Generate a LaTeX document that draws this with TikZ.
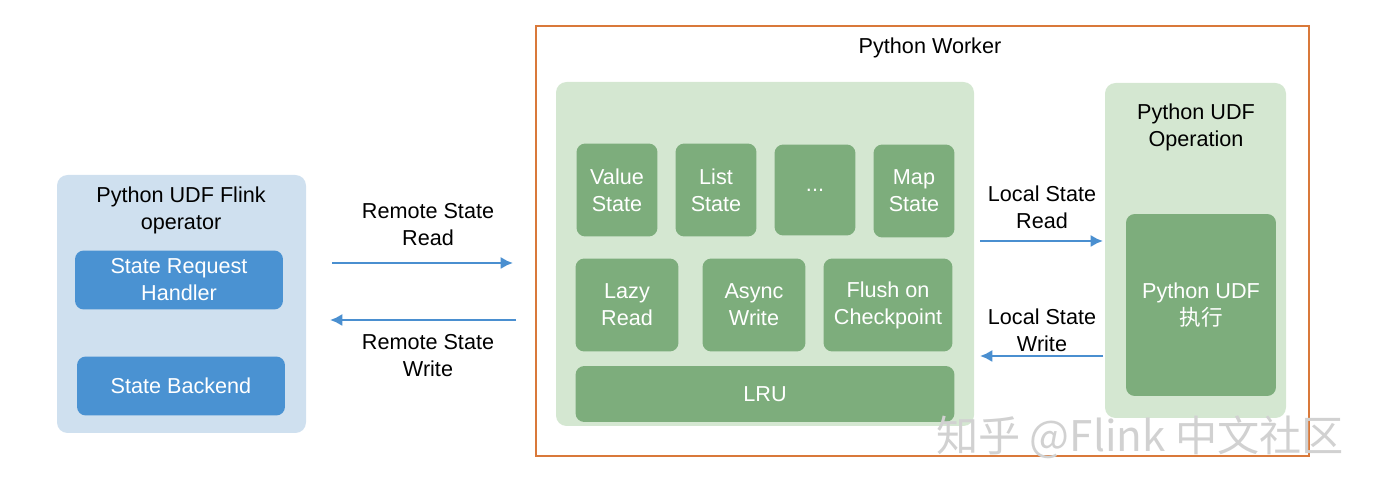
\documentclass[tikz,border=0pt]{standalone}
\usepackage{fontspec}
\setmainfont{Liberation Sans}
\newfontfamily\cjk{Noto Sans CJK SC}
\usetikzlibrary{positioning,arrows.meta}
\definecolor{panelblue}{HTML}{CFE0EF}
\definecolor{boxblue}{HTML}{4A92D2}
\definecolor{panelgreen}{HTML}{D4E7D1}
\definecolor{boxgreen}{HTML}{7DAD7C}
\definecolor{arrowblue}{HTML}{4A8FD0}
\definecolor{workerorange}{HTML}{D9793A}
\tikzset{
  txt/.style={font=\fontsize{12.3}{15.3}\selectfont, align=center},
  panel/.style={rounded corners=5pt, draw=none},
  bluebox/.style={panel, fill=boxblue, text=white, txt},
  greenbox/.style={panel, fill=boxgreen, text=white, txt},
  flow/.style={arrowblue, line width=1.6pt, -{Latex[length=7pt,width=7pt]}}
}
\begin{document}
\begin{tikzpicture}[x=0.02cm, y=-0.02cm]
    \useasboundingbox (0,0) rectangle (1374,496);
    % left operator
    \fill[panelblue, rounded corners=6pt] (57,175) rectangle (306,433);
    \node[txt] (op) at (181,210) {Python UDF Flink\\operator};
    \node[bluebox, minimum width=4.16cm, minimum height=1.18cm] (handler) at (179,280) {State Request\\Handler};
    \node[bluebox, minimum width=4.16cm, minimum height=1.18cm] (backend) at (181,386) {State Backend};
    % python worker
    \draw[workerorange, line width=1.5pt] (536,26) rectangle (1309,456);
    \node[txt] (worker) at (930,48) {Python Worker};
    \fill[panelgreen, rounded corners=6pt] (556,82) rectangle (974,426);
    \node[greenbox, minimum width=1.62cm, minimum height=1.86cm] (value) at (617,190) {Value\\State};
    \node[greenbox, minimum width=1.62cm, minimum height=1.86cm] (list) at (716,190) {List\\State};
    \node[greenbox, minimum width=1.62cm, minimum height=1.82cm] (dots) at (815,190) {...};
    \node[greenbox, minimum width=1.62cm, minimum height=1.86cm] (map) at (914,191) {Map\\State};
    \node[greenbox, minimum width=2.06cm, minimum height=1.86cm] (lazy) at (627,305) {Lazy\\Read};
    \node[greenbox, minimum width=2.06cm, minimum height=1.86cm] (async) at (754,305) {Async\\Write};
    \node[greenbox, minimum width=2.58cm, minimum height=1.86cm] (flush) at (888,305) {Flush on\\Checkpoint};
    \node[greenbox, minimum width=7.58cm, minimum height=1.12cm] (lru) at (765,394) {LRU};
    % udf operation
    \fill[panelgreen, rounded corners=6pt] (1105,83) rectangle (1286,418);
    \node[txt] (udfop) at (1196,127) {Python UDF\\Operation};
    \node[greenbox, minimum width=3.0cm, minimum height=3.64cm] (udf) at (1201,305) {Python UDF\\{\cjk 执行}};
    % connectors
    \coordinate (rr1) at (332,263); \coordinate (rr2) at (513,263);
    \coordinate (rw1) at (516,320); \coordinate (rw2) at (330,320);
    \coordinate (lr1) at (980,241); \coordinate (lr2) at (1103,241);
    \coordinate (lw1) at (1103,356); \coordinate (lw2) at (980,356);
    \draw[flow] (rr1) -- (rr2);
    \draw[flow] (rw1) -- (rw2);
    \draw[flow] (lr1) -- (lr2);
    \draw[flow] (lw1) -- (lw2);
    \node[txt] (rrl) at (428,225) {Remote State\\Read};
    \node[txt] (rwl) at (428,356) {Remote State\\Write};
    \node[txt] (lrl) at (1042,207) {Local State\\Read};
    \node[txt] (lwl) at (1042,330) {Local State\\Write};
    % watermark
    \node[font=\fontsize{24}{28}\selectfont\cjk, text=black!18] (mark) at (1140,437) {知乎 @Flink 中文社区};
\end{tikzpicture}
\end{document}
